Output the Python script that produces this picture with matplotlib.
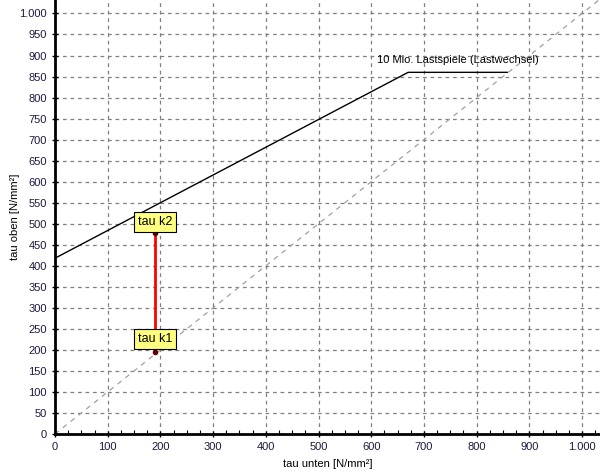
import matplotlib
matplotlib.use("Agg")
import matplotlib.pyplot as plt
from matplotlib.ticker import MultipleLocator, FuncFormatter, NullLocator

# data
limit_x = [0, 670, 858]
limit_y = [418, 860, 860]
diag_x = [0, 1040]
diag_y = [0, 1040]
arrow_x = [190, 190]
arrow_y = [195, 477]
labels = ["tau k2", "tau k1"]
label_x = [190, 190]
label_y = [504, 226]
note_text = "10 Mio. Lastspiele (Lastwechsel)"
note_xy = (611, 878)

plt.rcParams['font.family'] = ['Liberation Sans', 'DejaVu Sans']
fig = plt.figure(figsize=(6, 4.74), dpi=100)
ax = fig.add_axes([55/600, 40/474, 545/600, 434/474])

ax.set_xlim(0, 1034)
ax.set_ylim(0, 1032)

ax.xaxis.set_major_locator(MultipleLocator(100))
ax.xaxis.set_minor_locator(MultipleLocator(25))
ax.yaxis.set_major_locator(MultipleLocator(50))
ax.yaxis.set_minor_locator(NullLocator())
fmt = FuncFormatter(lambda v, p: f"{int(v):,}".replace(",", "."))
ax.xaxis.set_major_formatter(fmt)
ax.yaxis.set_major_formatter(fmt)

ax.grid(True, which='major', linestyle=(0, (3, 3)), color='#808080', linewidth=0.9)
for s in ['top', 'right']:
    ax.spines[s].set_visible(False)
for s in ['left', 'bottom']:
    ax.spines[s].set_linewidth(2)
ax.tick_params(which='major', direction='inout', length=5, width=1, labelsize=8, colors='black', labelcolor='#1a1a40')
ax.tick_params(which='minor', direction='in', length=3, width=0.8)

ax.plot(diag_x, diag_y, color='#a0a0a0', linestyle=(0, (4, 4)), linewidth=0.9, zorder=2)
ax.plot(limit_x, limit_y, color='black', linewidth=1.0, zorder=3)
ax.plot(arrow_x, arrow_y, color='red', linewidth=2, zorder=4)
ax.plot(arrow_x, arrow_y, linestyle='none', marker='o', markersize=3, color='#600000', zorder=5)

for t, x, y in zip(labels, label_x, label_y):
    ax.text(x, y, t, ha='center', va='center', fontsize=9, zorder=6,
            bbox=dict(boxstyle='square,pad=0.3', facecolor='#ffff80', edgecolor='black', linewidth=0.8))

ax.text(note_xy[0], note_xy[1], note_text, ha='left', va='bottom', fontsize=8, color='black')

ax.set_xlabel("tau unten [N/mm²]", fontsize=8, labelpad=5)
ax.set_ylabel("tau oben [N/mm²]", fontsize=8)
ax.yaxis.set_label_coords(-0.064, 0.5)

fig.savefig("out.png", dpi=100)
